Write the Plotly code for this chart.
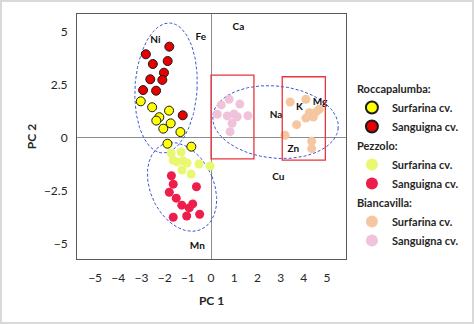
import numpy as np
import plotly.graph_objects as go

# ---------------- data ----------------
rocca_surf_x = [-3.03, -2.54, -1.81, -2.23, -2.36, -1.74, -2.06, -1.32, -1.88, -0.85]
rocca_surf_y = [1.73, 1.45, 1.29, 0.98, 0.82, 0.69, 0.44, 0.28, -0.27, -0.41]
rocca_sang_x = [-1.80, -2.81, -1.87, -2.51, -2.03, -2.62, -2.10, -2.93, -2.37, -1.22]
rocca_sang_y = [4.31, 3.95, 3.63, 3.49, 3.08, 2.77, 2.74, 2.26, 2.23, 1.07]

pezz_surf_x = [-1.72, -1.29, -1.64, -1.47, -1.21, -1.03, -0.52, -0.04, -1.25, -0.86]
pezz_surf_y = [-0.71, -0.66, -1.04, -1.13, -1.08, -1.18, -1.23, -1.32, -1.51, -1.70]
pezz_sang_x = [-1.71, -1.63, -0.63, -1.80, -1.50, -1.26, -0.79, -0.94, -1.63, -1.05, -0.49]
pezz_sang_y = [-1.78, -2.18, -2.30, -2.56, -2.84, -3.17, -3.11, -3.30, -3.74, -3.68, -3.60]

bianc_surf_x = [3.41, 4.09, 4.67, 4.53, 4.24, 4.41, 4.09, 3.69, 3.19, 4.34, 4.34]
bianc_surf_y = [1.70, 1.83, 1.35, 1.23, 1.19, 0.99, 0.94, 0.63, 0.13, -0.16, -0.50]
bianc_sang_x = [0.44, 0.78, 1.24, 0.27, 0.70, 0.99, 1.13, 1.59, 0.91, 0.82]
bianc_sang_y = [1.56, 1.83, 1.60, 1.12, 1.04, 1.13, 1.00, 1.05, 0.69, 0.30]

element_names = ["Ni", "Fe", "Ca", "Na", "K", "Mg", "Zn", "Cu", "Mn"]
element_x = [-2.40, -0.44, 1.18, 2.80, 3.81, 4.70, 3.55, 2.90, -0.59]
element_y = [4.59, 4.75, 5.20, 1.04, 1.46, 1.68, -0.53, -1.87, -5.13]

# red boxes (x0, x1, y0, y1)
box_x0 = [0.0, 3.07]
box_x1 = [1.85, 4.93]
box_y0 = [-0.99, -1.04]
box_y1 = [2.97, 2.89]

# dashed ellipses: centre, semi-axes, rotation (deg)
ell_cx = [-1.94, -1.25, 2.78]
ell_cy = [2.36, -2.31, 0.75]
ell_rx = [1.34, 1.38, 2.72]
ell_ry = [3.07, 2.17, 1.70]
ell_ang = [-3, 20, -7]

x_ticks = [-5, -4, -3, -2, -1, 0, 1, 2, 3, 4, 5]
y_ticks = [-5, -2.5, 0, 2.5, 5]

FONT = "Lato"

fig = go.Figure()

# ellipses (drawn first, beneath points)
t = np.linspace(0, 2 * np.pi, 200)
for cx, cy, rx, ry, a in zip(ell_cx, ell_cy, ell_rx, ell_ry, ell_ang):
    ar = np.deg2rad(a)
    u = rx * np.cos(t)
    v = ry * np.sin(t)
    fig.add_trace(go.Scatter(
        x=cx + u * np.cos(ar) - v * np.sin(ar),
        y=cy + u * np.sin(ar) + v * np.cos(ar),
        mode="lines", line=dict(color="#3a57d6", width=1, dash="3px,2px"),
        showlegend=False, hoverinfo="skip"))

groups = [
    ("Roccapalumba:", "rocca",
     [(rocca_surf_x, rocca_surf_y, "#FFFF00", "#1a1a1a"),
      (rocca_sang_x, rocca_sang_y, "#E80000", "#1a1a1a")]),
    ("Pezzolo:", "pezz",
     [(pezz_surf_x, pezz_surf_y, "#E9F870", None),
      (pezz_sang_x, pezz_sang_y, "#EE1E4C", None)]),
    ("Biancavilla:", "bianc",
     [(bianc_surf_x, bianc_surf_y, "#F6C6A0", None),
      (bianc_sang_x, bianc_sang_y, "#F1C3DB", None)]),
]
names = ["Surfarina cv.", "Sanguigna cv."]
for title, gid, series in groups:
    for (xs, ys, col, edge), nm in zip(series, names):
        fig.add_trace(go.Scatter(
            x=xs, y=ys, mode="markers", name="<b>" + nm + "</b>",
            legendgroup=gid,
            legendgrouptitle=dict(text="<b>" + title + "</b>",
                                  font=dict(family=FONT, size=11, color="#262626")),
            marker=dict(size=9, color=col,
                        line=dict(color=edge if edge else col, width=1 if edge else 0)),
        ))

fig.add_trace(go.Scatter(
    x=element_x, y=element_y, mode="text", text=["<b>" + n + "</b>" for n in element_names],
    textfont=dict(family=FONT, size=10, color="#111111"), textposition="middle center",
    showlegend=False, hoverinfo="skip"))

for x0, x1, y0, y1 in zip(box_x0, box_x1, box_y0, box_y1):
    fig.add_shape(type="rect", xref="x", yref="y", x0=x0, x1=x1, y0=y0, y1=y1,
                  line=dict(color="#E8343C", width=1.3), layer="above")

# light outer frame of the picture
ml, mr, mt, mb = 77, 128, 14, 65
W, H = 474, 324
pw, ph = W - ml - mr, H - mt - mb
fig.add_shape(type="rect", xref="paper", yref="paper",
              x0=-ml / pw, x1=(W - ml) / pw, y0=-mb / ph, y1=(H - mb) / ph,
              line=dict(color="#d9d9d9", width=4), layer="below")

fig.update_layout(
    width=W, height=H,
    margin=dict(l=ml, r=mr, t=mt, b=mb, autoexpand=False),
    paper_bgcolor="white", plot_bgcolor="white",
    font=dict(family=FONT, size=12, color="#262626"),
    legend=dict(x=1.022, y=0.755, xanchor="left", yanchor="top",
                font=dict(family=FONT, size=11, color="#262626"),
                tracegroupgap=0, itemsizing="constant",
                bgcolor="rgba(0,0,0,0)"),
    xaxis=dict(range=[-5.78, 5.82], tickvals=x_ticks, showgrid=False,
               zeroline=True, zerolinecolor="#8c8c8c", zerolinewidth=1,
               showline=True, mirror=True, linecolor="#595959", linewidth=1,
               ticks="", ticklabelstandoff=8,
               title=dict(text="<b>PC 1</b>", font=dict(size=12), standoff=12)),
    yaxis=dict(range=[-5.71, 5.85], tickvals=y_ticks, showgrid=False,
               zeroline=True, zerolinecolor="#8c8c8c", zerolinewidth=1,
               showline=True, mirror=True, linecolor="#595959", linewidth=1,
               ticks="", ticklabelstandoff=6,
               title=dict(text="<b>PC 2</b>", font=dict(size=12), standoff=4)),
)

fig.write_html("out.html")
